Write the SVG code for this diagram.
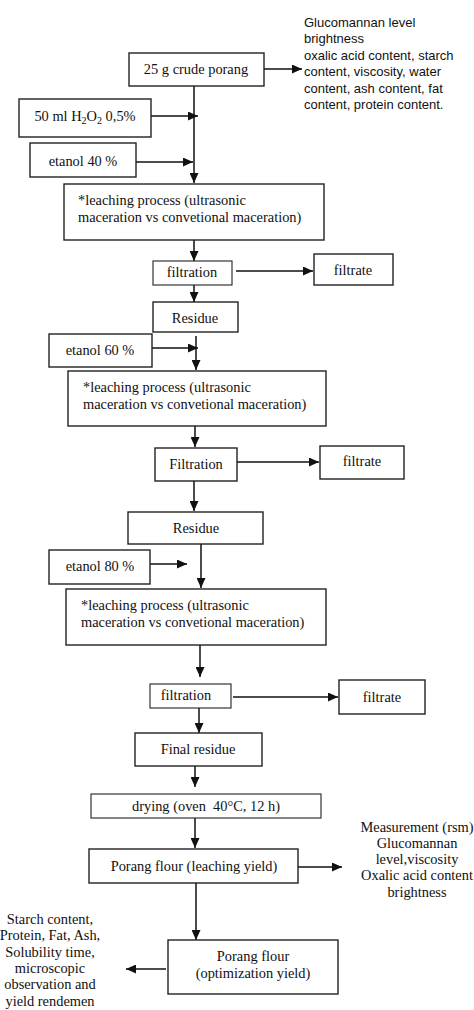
<svg xmlns="http://www.w3.org/2000/svg" width="474" height="1010" viewBox="0 0 474 1010">
<style>
text{font-family:"Liberation Serif","Times New Roman",serif;font-size:14.4px;fill:#111}
.sans{font-family:"Liberation Sans",Arial,sans-serif;font-size:13px}
.c{text-anchor:middle}
.box{fill:#fff;stroke:#222;stroke-width:1.4}
.thin{stroke-width:1.1}
.ln{stroke:#111;stroke-width:1.5;fill:none;marker-end:url(#ah)}
</style>
<defs>
<marker id="ah" markerUnits="userSpaceOnUse" markerWidth="11" markerHeight="9" refX="10" refY="4.5" orient="auto">
<path d="M0,0 L10,4.5 L0,9 z" fill="#111"/>
</marker>
</defs>
<rect width="474" height="1010" fill="#fff"/>

<g id="connectors">
<line class="ln" x1="263" y1="69" x2="302" y2="69"/>
<line class="ln" x1="194" y1="86" x2="194" y2="183"/>
<line class="ln" x1="151" y1="116" x2="198" y2="116"/>
<line class="ln" x1="136" y1="162" x2="193" y2="162"/>
<line class="ln" x1="194" y1="240" x2="194" y2="261"/>
<line class="ln" x1="236" y1="271" x2="313" y2="271"/>
<line class="ln" x1="194" y1="285" x2="194" y2="302"/>
<line class="ln" x1="196" y1="336" x2="196" y2="370"/>
<line class="ln" x1="152" y1="348" x2="198" y2="348"/>
<line class="ln" x1="195" y1="426" x2="195" y2="447"/>
<line class="ln" x1="237" y1="462" x2="319" y2="462"/>
<line class="ln" x1="194" y1="481" x2="194" y2="511"/>
<line class="ln" x1="201" y1="544" x2="201" y2="588"/>
<line class="ln" x1="150" y1="564" x2="187" y2="564"/>
<line class="ln" x1="200" y1="645" x2="200" y2="677"/>
<line class="ln" x1="233" y1="697" x2="338" y2="697"/>
<line class="ln" x1="199" y1="708" x2="199" y2="733"/>
<line class="ln" x1="195" y1="766" x2="195" y2="787"/>
<line class="ln" x1="195" y1="818" x2="195" y2="848"/>
<line class="ln" x1="297" y1="867" x2="342" y2="867"/>
<line class="ln" x1="196" y1="883" x2="196" y2="940"/>
<line class="ln" x1="166" y1="969" x2="126" y2="969"/>
</g>

<g id="crude">
<rect class="box" x="129" y="53" width="135" height="33"/>
<text class="c" x="196" y="74">25 g crude porang</text>
</g>
<g id="params-top" class="sans">
<text class="sans" x="304" y="27">Glucomannan level</text>
<text class="sans" x="304" y="43">brightness</text>
<text class="sans" x="304" y="60">oxalic acid content, starch</text>
<text class="sans" x="304" y="76">content, viscosity, water</text>
<text class="sans" x="304" y="93">content, ash content, fat</text>
<text class="sans" x="304" y="109">content, protein content.</text>
</g>
<g id="h2o2">
<rect class="box" x="19" y="99" width="132" height="38"/>
<text class="c" x="85" y="121">50 ml H<tspan font-size="10" dy="3">2</tspan><tspan dy="-3">O</tspan><tspan font-size="10" dy="3">2</tspan><tspan dy="-3"> 0,5%</tspan></text>
</g>
<g id="etanol40">
<rect class="box" x="30" y="143" width="106" height="34"/>
<text class="c" x="83" y="166">etanol 40 %</text>
</g>
<g id="leach1">
<rect class="box" x="64" y="184" width="260" height="56"/>
<text x="78" y="205">*leaching process (ultrasonic</text>
<text x="78" y="222">maceration vs convetional maceration)</text>
</g>
<g id="filtration1">
<rect class="box thin" x="153" y="261" width="79" height="24"/>
<text class="c" x="192" y="277">filtration</text>
</g>
<g id="filtrate1">
<rect class="box" x="314" y="254" width="79" height="31"/>
<text class="c" x="353" y="275">filtrate</text>
</g>
<g id="residue1">
<rect class="box" x="153" y="302" width="85" height="30"/>
<text class="c" x="195" y="323">Residue</text>
</g>
<g id="etanol60">
<rect class="box" x="49" y="334" width="103" height="33"/>
<text class="c" x="100" y="355">etanol 60 %</text>
</g>
<g id="leach2">
<rect class="box" x="68" y="371" width="258" height="55"/>
<text x="83" y="392">*leaching process (ultrasonic</text>
<text x="83" y="409">maceration vs convetional maceration)</text>
</g>
<g id="filtration2">
<rect class="box" x="155" y="448" width="82" height="33"/>
<text class="c" x="196" y="469">Filtration</text>
</g>
<g id="filtrate2">
<rect class="box" x="320" y="446" width="84" height="33"/>
<text class="c" x="362" y="466">filtrate</text>
</g>
<g id="residue2">
<rect class="box" x="128" y="512" width="135" height="32"/>
<text class="c" x="196" y="533">Residue</text>
</g>
<g id="etanol80">
<rect class="box" x="49" y="550" width="101" height="34"/>
<text class="c" x="100" y="571">etanol 80 %</text>
</g>
<g id="leach3">
<rect class="box" x="66" y="589" width="260" height="56"/>
<text x="81" y="610">*leaching process (ultrasonic</text>
<text x="81" y="627">maceration vs convetional maceration)</text>
</g>
<g id="filtration3">
<rect class="box thin" x="150" y="684" width="81" height="24"/>
<text class="c" x="186" y="700">filtration</text>
</g>
<g id="filtrate3">
<rect class="box" x="339" y="680" width="86" height="34"/>
<text class="c" x="382" y="702">filtrate</text>
</g>
<g id="final-residue">
<rect class="box" x="135" y="733" width="127" height="33"/>
<text class="c" x="198" y="754">Final residue</text>
</g>
<g id="drying">
<rect class="box thin" x="91" y="794" width="230" height="24"/>
<text class="c" x="206" y="811">drying (oven&#160; 40°C, 12 h)</text>
</g>
<g id="flour-leaching">
<rect class="box" x="89" y="849" width="209" height="34"/>
<text class="c" x="194" y="871">Porang flour (leaching yield)</text>
</g>
<g id="params-rsm">
<text class="c" x="417" y="832">Measurement (rsm)</text>
<text class="c" x="417" y="848">Glucomannan</text>
<text class="c" x="417" y="864">level,viscosity</text>
<text class="c" x="417" y="880">Oxalic acid content</text>
<text class="c" x="417" y="897">brightness</text>
</g>
<g id="flour-opt">
<rect class="box" x="168" y="940" width="170" height="54"/>
<text class="c" x="253" y="961">Porang flour</text>
<text class="c" x="253" y="978">(optimization yield)</text>
</g>
<g id="params-opt">
<text class="c" x="50" y="924">Starch content,</text>
<text class="c" x="50" y="940">Protein, Fat, Ash,</text>
<text class="c" x="50" y="957">Solubility time,</text>
<text class="c" x="50" y="973">microscopic</text>
<text class="c" x="50" y="989">observation and</text>
<text class="c" x="50" y="1006">yield rendemen</text>
</g>
</svg>
